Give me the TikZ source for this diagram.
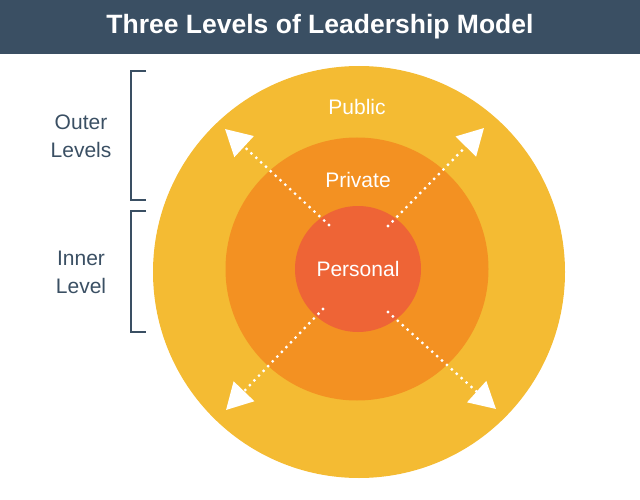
\documentclass[tikz,border=0pt]{standalone}
\usepackage{fontspec}
\setmainfont{Liberation Sans}
\usepackage{tikz}
\usetikzlibrary{arrows.meta,positioning}

\definecolor{slate}{HTML}{3A4F63}
\definecolor{publicyellow}{HTML}{F4BB33}
\definecolor{privateorange}{HTML}{F39122}
\definecolor{personalred}{HTML}{EE6436}

\tikzset{
  ring/.style={circle, inner sep=0pt, minimum size=#1},
  levellabel/.style={text=white, font=\fontsize{21}{24}\selectfont},
  sidelabel/.style={text=slate, align=center, font=\fontsize{21}{28}\selectfont},
  bracket/.style={draw=slate, line width=2pt},
  spread/.style={draw=white, line width=3.2pt, line cap=round,
    dash pattern=on 0pt off 6.6pt,
    -{Triangle[length=26pt, width=28pt, fill=white]}}
}

\begin{document}
\begin{tikzpicture}[x=1pt, y=-1pt]

	\useasboundingbox (0,0) rectangle (640,500);
	
	% title bar
	\fill[slate] (0,0) rectangle (640,54);
	\node[text=white, font=\bfseries\fontsize{26.5}{30}\selectfont] (title) at (320,27) {Three Levels of Leadership Model};
	
	% the three levels
	\node[ring=412pt, fill=publicyellow] (public) at (359,272) {};
	\node[ring=263pt, fill=privateorange] (private) at (357,269) {};
	\node[ring=126pt, fill=personalred] (personal) at (358,269) {};
	
	\node[levellabel] (publiclbl) at (357,107) {Public};
	\node[levellabel] (privatelbl) at (358,180) {Private};
	\node[levellabel] (personallbl) at (358,269) {Personal};
	
	% arrows out of the centre
	\coordinate (tlstart) at (329,225);
	\coordinate (tlend) at (225,129);
	\coordinate (trstart) at (388,226);
	\coordinate (trend) at (484,128);
	\coordinate (blstart) at (323,309);
	\coordinate (blend) at (226,410);
	\coordinate (brstart) at (388,312);
	\coordinate (brend) at (496,409);
	
	\draw[spread] (tlstart) -- (tlend);
	\draw[spread] (trstart) -- (trend);
	\draw[spread] (blstart) -- (blend);
	\draw[spread] (brstart) -- (brend);
	
	% brackets on the left
	\draw[bracket] (146,71) -- (131,71) -- (131,200) -- (146,200);
	\draw[bracket] (146,211) -- (131,211) -- (131,332) -- (146,332);
	
	\node[sidelabel] (outer) at (81,136) {Outer\\Levels};
	\node[sidelabel] (inner) at (81,272) {Inner\\Level};
	
\end{tikzpicture}
\end{document}
